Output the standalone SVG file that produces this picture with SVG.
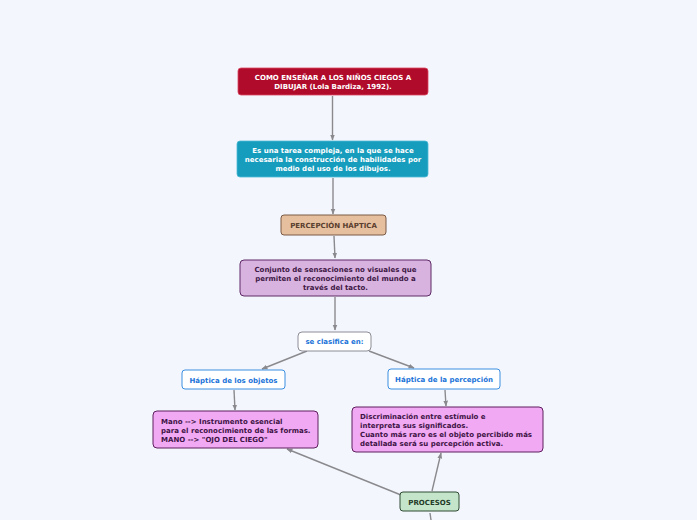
<svg xmlns="http://www.w3.org/2000/svg" width="697" height="520" viewBox="0 0 697 520">
<style>
.t{font-family:"DejaVu Sans",Verdana,sans-serif;font-weight:bold;font-size:7px}
.c{text-anchor:middle}
.w{fill:#ffffff}
.conn line{stroke:#8a8a8e;stroke-width:1.4;fill:none}
</style>
<defs>
<marker id="ah" viewBox="0 0 10 10" refX="9" refY="5" markerWidth="6" markerHeight="6" orient="auto" markerUnits="userSpaceOnUse">
<path d="M0,1 L10,5 L0,9 z" fill="#8a8a8e"/>
</marker>
</defs>
<rect width="697" height="520" fill="#f3f6fd"/>
<g id="connectors" class="conn">
<line x1="332.5" y1="96" x2="332.5" y2="140" marker-end="url(#ah)"/>
<line x1="333" y1="178" x2="333" y2="214" marker-end="url(#ah)"/>
<line x1="334" y1="236" x2="335" y2="258" marker-end="url(#ah)"/>
<line x1="335" y1="297" x2="335" y2="330" marker-end="url(#ah)"/>
<line x1="307" y1="351" x2="262" y2="369" marker-end="url(#ah)"/>
<line x1="369" y1="351" x2="414" y2="368" marker-end="url(#ah)"/>
<line x1="234" y1="390" x2="235" y2="410" marker-end="url(#ah)"/>
<line x1="445" y1="390" x2="446" y2="406" marker-end="url(#ah)"/>
<line x1="401" y1="495" x2="287" y2="449" marker-end="url(#ah)"/>
<line x1="432" y1="491" x2="441" y2="453" marker-end="url(#ah)"/>
<line x1="430" y1="513" x2="431" y2="520"/>
</g>
<g id="n1">
<rect x="238" y="68" width="190" height="27" rx="3" fill="#b10b2c" stroke="#d9475f" stroke-width="0.8"/>
<text class="t c w" x="333" y="80">COMO ENSEÑAR A LOS NIÑOS CIEGOS A</text>
<text class="t c w" x="333" y="89">DIBUJAR (Lola Bardiza, 1992).</text>
</g>
<g id="n2">
<rect x="237" y="141" width="191" height="36" rx="3" fill="#169dbd" stroke="#4fbad4" stroke-width="0.8"/>
<text class="t c w" x="333" y="153">Es una tarea compleja, en la que se hace</text>
<text class="t c w" x="333" y="162">necesaria la construcción de habilidades por</text>
<text class="t c w" x="333" y="171">medio del uso de los dibujos.</text>
</g>
<g id="n3">
<rect x="281" y="215" width="105" height="20" rx="3" fill="#e6bf9f" stroke="#7a5a45" stroke-width="1"/>
<text class="t c" x="333.5" y="228" fill="#5a3e2e">PERCEPCIÓN HÁPTICA</text>
</g>
<g id="n4">
<rect x="240" y="260" width="191" height="36" rx="4" fill="#d9b3e0" stroke="#5e2a66" stroke-width="1"/>
<text class="t c" x="335.5" y="272" fill="#3e1845">Conjunto de sensaciones no visuales que</text>
<text class="t c" x="335.5" y="281" fill="#3e1845">permiten el reconocimiento del mundo a</text>
<text class="t c" x="335.5" y="290" fill="#3e1845">través del tacto.</text>
</g>
<g id="n5">
<rect x="298" y="332" width="73" height="19" rx="4" fill="#ffffff" stroke="#8c8c96" stroke-width="1"/>
<text class="t c" x="334.5" y="344" fill="#1a73d9">se clasifica en:</text>
</g>
<g id="n6">
<rect x="182" y="370" width="103" height="19" rx="3" fill="#ffffff" stroke="#3b8fe0" stroke-width="1"/>
<text class="t c" x="233.5" y="382.5" fill="#1a73d9">Háptica de los objetos</text>
</g>
<g id="n7">
<rect x="388" y="369" width="112" height="20" rx="3" fill="#ffffff" stroke="#3b8fe0" stroke-width="1"/>
<text class="t c" x="444" y="382" fill="#1a73d9">Háptica de la percepción</text>
</g>
<g id="n8">
<rect x="153" y="411" width="165" height="37" rx="4" fill="#f1a9f3" stroke="#5e1f5f" stroke-width="1"/>
<text class="t" x="161" y="424" fill="#3e1345">Mano --&gt; Instrumento esencial</text>
<text class="t" x="161" y="433" fill="#3e1345">para el reconocimiento de las formas.</text>
<text class="t" x="161" y="442" fill="#3e1345">MANO --&gt; "OJO DEL CIEGO"</text>
</g>
<g id="n9">
<rect x="352" y="407" width="191" height="45" rx="4" fill="#f1a9f3" stroke="#5e1f5f" stroke-width="1"/>
<text class="t" x="360" y="419" fill="#3e1345">Discriminación entre estímulo e</text>
<text class="t" x="360" y="428" fill="#3e1345">interpreta sus significados.</text>
<text class="t" x="360" y="437" fill="#3e1345">Cuanto más raro es el objeto percibido más</text>
<text class="t" x="360" y="446" fill="#3e1345">detallada será su percepción activa.</text>
</g>
<g id="n10">
<rect x="400" y="492" width="59" height="19" rx="3" fill="#c4e5c9" stroke="#2f4a33" stroke-width="1"/>
<text class="t c" x="429.5" y="504.5" fill="#233a27">PROCESOS</text>
</g>
</svg>
